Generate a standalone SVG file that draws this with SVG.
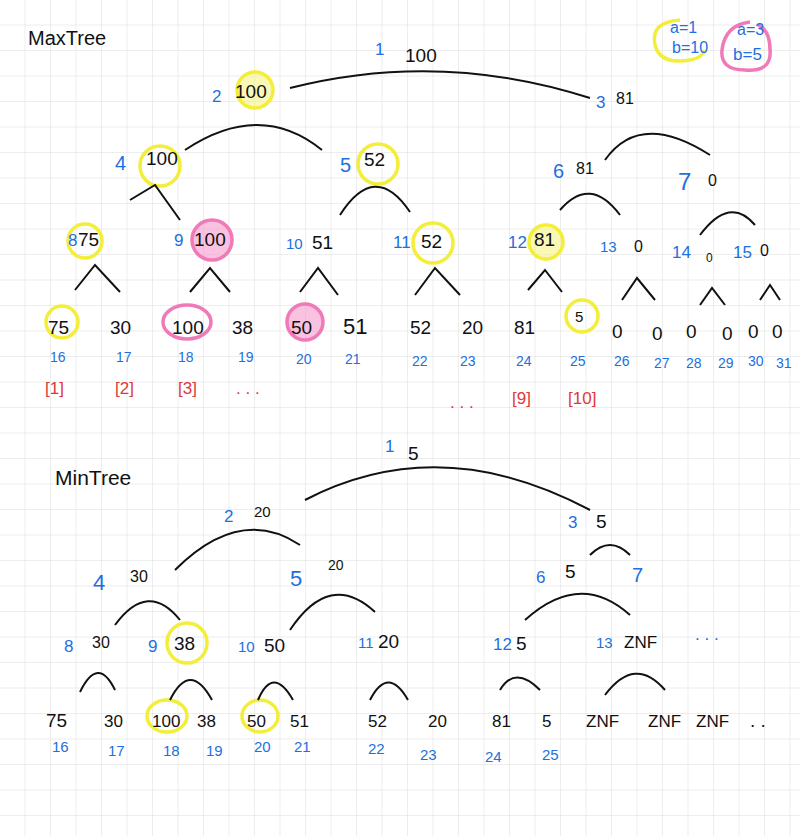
<svg xmlns="http://www.w3.org/2000/svg" width="800" height="836" viewBox="0 0 800 836">
<defs>
<pattern id="g" width="25.5" height="25.5" patternUnits="userSpaceOnUse"><path d="M25.5 0V25.5H0" fill="none" stroke="#dcdcdc" stroke-width="1"/></pattern>
<style>
text{font-family:"Liberation Sans",Arial,sans-serif;font-size:19px;fill:#111}
.b{fill:#1e6fe0;font-size:17px}
.r{fill:#e03838;font-size:17px}
.y{fill:none;stroke:#f3ee3a;stroke-width:3.5}
.p{fill:none;stroke:#f07ab8;stroke-width:3.5}
.yf{fill:#f6f27a;opacity:.55}
.pf{fill:#f59acb;opacity:.6}
#conn path{fill:none;stroke:#111;stroke-width:2}
</style>
</defs>
<rect width="800" height="836" fill="#fff"/>
<rect width="800" height="836" fill="url(#g)"/>
<text x="28" y="45" style="font-size:20px">MaxTree</text>
<g id="legend">
<path class="y" d="M680 20Q650 22 655 45Q660 65 690 60Q702 58 705 50"/>
<text class="b" x="670" y="33" style="font-size:16px">a=1</text><text class="b" x="672" y="53" style="font-size:16px">b=10</text>
<path class="p" d="M750 22Q725 25 722 50Q720 70 745 70Q772 72 770 50Q770 30 758 25"/>
<text class="b" x="737" y="35" style="font-size:16px">a=3</text><text class="b" x="733" y="60" style="font-size:17px">b=5</text>
</g>
<g id="highlights">
<circle class="yf" cx="255" cy="90" r="18"/><circle class="y" cx="255" cy="90" r="18"/>
<circle class="y" cx="160" cy="166" r="20"/>
<circle class="y" cx="378" cy="164" r="20"/>
<circle class="y" cx="85" cy="241" r="17"/>
<circle class="pf" cx="212" cy="240" r="20"/><circle class="p" cx="212" cy="240" r="20"/>
<circle class="y" cx="433" cy="243" r="20"/>
<circle class="yf" cx="546" cy="242" r="17"/><circle class="y" cx="546" cy="242" r="17"/>
<circle class="y" cx="62" cy="322" r="16"/>
<ellipse class="p" cx="187" cy="322" rx="24" ry="17"/>
<circle class="pf" cx="305" cy="322" r="18"/><circle class="p" cx="305" cy="322" r="18"/>
<circle class="y" cx="582" cy="316" r="16"/>
<circle class="y" cx="187" cy="643" r="20"/>
<ellipse class="y" cx="167" cy="716" rx="20" ry="16"/>
<ellipse class="y" cx="260" cy="716" rx="18" ry="16"/>
</g>
<g id="conn">
<path d="M290 88Q440 50 590 98"/>
<path d="M185 150Q260 100 322 150"/>
<path d="M605 160Q640 110 710 155"/>
<path d="M130 200L155 185L180 220"/>
<path d="M340 215Q375 160 410 212"/>
<path d="M560 210Q590 175 620 215"/>
<path d="M700 235Q730 195 755 225"/>
<path d="M75 290L95 265L120 292"/>
<path d="M190 292L210 268L230 292"/>
<path d="M300 292L318 268L338 295"/>
<path d="M415 295L435 268L460 295"/>
<path d="M528 290L545 270L562 292"/>
<path d="M622 300L637 278L655 300"/>
<path d="M700 305L712 288L725 305"/>
<path d="M760 300L770 285L780 300"/>
<path d="M305 500Q440 430 590 510"/>
<path d="M175 570Q240 505 300 545"/>
<path d="M590 555Q610 535 630 555"/>
<path d="M115 625Q148 580 180 620"/>
<path d="M290 630Q330 570 375 612"/>
<path d="M525 620Q580 570 630 615"/>
<path d="M80 692Q98 655 115 690"/>
<path d="M170 700Q190 660 212 700"/>
<path d="M258 700Q273 665 293 700"/>
<path d="M370 700Q388 665 408 700"/>
<path d="M500 690Q515 665 540 690"/>
<path d="M605 695Q635 655 665 690"/>
</g>
<g id="maxnodes">
<text class="b" x="375" y="55">1</text><text x="405" y="62">100</text>
<text class="b" x="212" y="102">2</text><text x="235" y="98">100</text>
<text class="b" x="596" y="108">3</text><text x="616" y="104" style="font-size:16px">81</text>
<text class="b" x="115" y="170" style="font-size:20px">4</text><text x="146" y="165">100</text>
<text class="b" x="340" y="172" style="font-size:20px">5</text><text x="364" y="166">52</text>
<text class="b" x="553" y="178" style="font-size:20px">6</text><text x="576" y="174" style="font-size:16px">81</text>
<text class="b" x="678" y="190" style="font-size:24px">7</text><text x="708" y="186" style="font-size:16px">0</text>
<text class="b" x="68" y="246">8</text><text x="78" y="246">75</text>
<text class="b" x="174" y="246">9</text><text x="194" y="246">100</text>
<text class="b" x="286" y="249" style="font-size:15px">10</text><text x="312" y="249">51</text>
<text class="b" x="393" y="248">11</text><text x="421" y="248">52</text>
<text class="b" x="508" y="248">12</text><text x="534" y="246">81</text>
<text class="b" x="600" y="252" style="font-size:15px">13</text><text x="634" y="252" style="font-size:16px">0</text>
<text class="b" x="672" y="258">14</text><text x="706" y="262" style="font-size:12px">0</text>
<text class="b" x="733" y="258">15</text><text x="760" y="256" style="font-size:16px">0</text>
</g>
<g id="maxleaves">
<text x="48" y="334">75</text><text x="110" y="334">30</text><text x="172" y="334">100</text><text x="232" y="334">38</text>
<text x="291" y="334">50</text><text x="343" y="334" style="font-size:22px">51</text><text x="410" y="334">52</text><text x="462" y="334">20</text>
<text x="514" y="334">81</text><text x="575" y="322" style="font-size:15px">5</text><text x="612" y="338">0</text><text x="652" y="340">0</text>
<text x="686" y="338">0</text><text x="722" y="340">0</text><text x="748" y="338">0</text><text x="772" y="338">0</text>
<text class="b" x="50" y="362" style="font-size:14px">16</text><text class="b" x="116" y="362" style="font-size:14px">17</text>
<text class="b" x="178" y="362" style="font-size:14px">18</text><text class="b" x="238" y="362" style="font-size:14px">19</text>
<text class="b" x="296" y="364" style="font-size:14px">20</text><text class="b" x="345" y="364" style="font-size:14px">21</text>
<text class="b" x="412" y="366" style="font-size:14px">22</text><text class="b" x="460" y="366" style="font-size:14px">23</text>
<text class="b" x="516" y="366" style="font-size:14px">24</text><text class="b" x="570" y="366" style="font-size:14px">25</text>
<text class="b" x="614" y="366" style="font-size:14px">26</text><text class="b" x="654" y="368" style="font-size:14px">27</text>
<text class="b" x="686" y="368" style="font-size:14px">28</text><text class="b" x="718" y="368" style="font-size:14px">29</text>
<text class="b" x="748" y="366" style="font-size:14px">30</text><text class="b" x="776" y="368" style="font-size:14px">31</text>
<text class="r" x="45" y="394">[1]</text><text class="r" x="115" y="394">[2]</text><text class="r" x="178" y="394">[3]</text>
<text class="r" x="236" y="394">. . .</text><text class="r" x="450" y="408">. . .</text>
<text class="r" x="512" y="404">[9]</text><text class="r" x="568" y="404">[10]</text>
</g>
<text x="55" y="485" style="font-size:21px">MinTree</text>
<g id="minnodes">
<text class="b" x="385" y="452">1</text><text x="408" y="460">5</text>
<text class="b" x="224" y="522">2</text><text x="254" y="517" style="font-size:15px">20</text>
<text class="b" x="568" y="528">3</text><text x="596" y="528">5</text>
<text class="b" x="93" y="590" style="font-size:22px">4</text><text x="130" y="582" style="font-size:16px">30</text>
<text class="b" x="290" y="586" style="font-size:22px">5</text><text x="328" y="570" style="font-size:14px">20</text>
<text class="b" x="536" y="583">6</text><text x="565" y="578">5</text><text class="b" x="632" y="582" style="font-size:20px">7</text>
<text class="b" x="64" y="652">8</text><text x="92" y="648" style="font-size:16px">30</text>
<text class="b" x="148" y="652">9</text><text x="174" y="650">38</text>
<text class="b" x="238" y="652" style="font-size:15px">10</text><text x="264" y="652">50</text>
<text class="b" x="358" y="648" style="font-size:15px">11</text><text x="378" y="648">20</text>
<text class="b" x="493" y="650">12</text><text x="516" y="650">5</text>
<text class="b" x="596" y="648" style="font-size:15px">13</text><text x="624" y="648" style="font-size:17px">ZNF</text>
<text class="b" x="695" y="640">. . .</text>
</g>
<g id="minleaves">
<text x="46" y="727">75</text><text x="104" y="727" style="font-size:17px">30</text><text x="152" y="727" style="font-size:17px">100</text><text x="197" y="727" style="font-size:17px">38</text>
<text x="247" y="727" style="font-size:17px">50</text><text x="290" y="727" style="font-size:17px">51</text><text x="368" y="727" style="font-size:17px">52</text><text x="428" y="727" style="font-size:17px">20</text>
<text x="492" y="727" style="font-size:17px">81</text><text x="542" y="727" style="font-size:17px">5</text>
<text x="586" y="727" style="font-size:17px">ZNF</text><text x="648" y="727" style="font-size:17px">ZNF</text><text x="696" y="727" style="font-size:17px">ZNF</text><text x="750" y="727">. .</text>
<text class="b" x="52" y="752" style="font-size:15px">16</text><text class="b" x="108" y="756" style="font-size:15px">17</text>
<text class="b" x="163" y="756" style="font-size:15px">18</text><text class="b" x="206" y="756" style="font-size:15px">19</text>
<text class="b" x="254" y="752" style="font-size:15px">20</text><text class="b" x="294" y="752" style="font-size:15px">21</text>
<text class="b" x="368" y="754" style="font-size:15px">22</text><text class="b" x="420" y="760" style="font-size:15px">23</text>
<text class="b" x="485" y="762" style="font-size:15px">24</text><text class="b" x="542" y="760" style="font-size:15px">25</text>
</g>
</svg>
